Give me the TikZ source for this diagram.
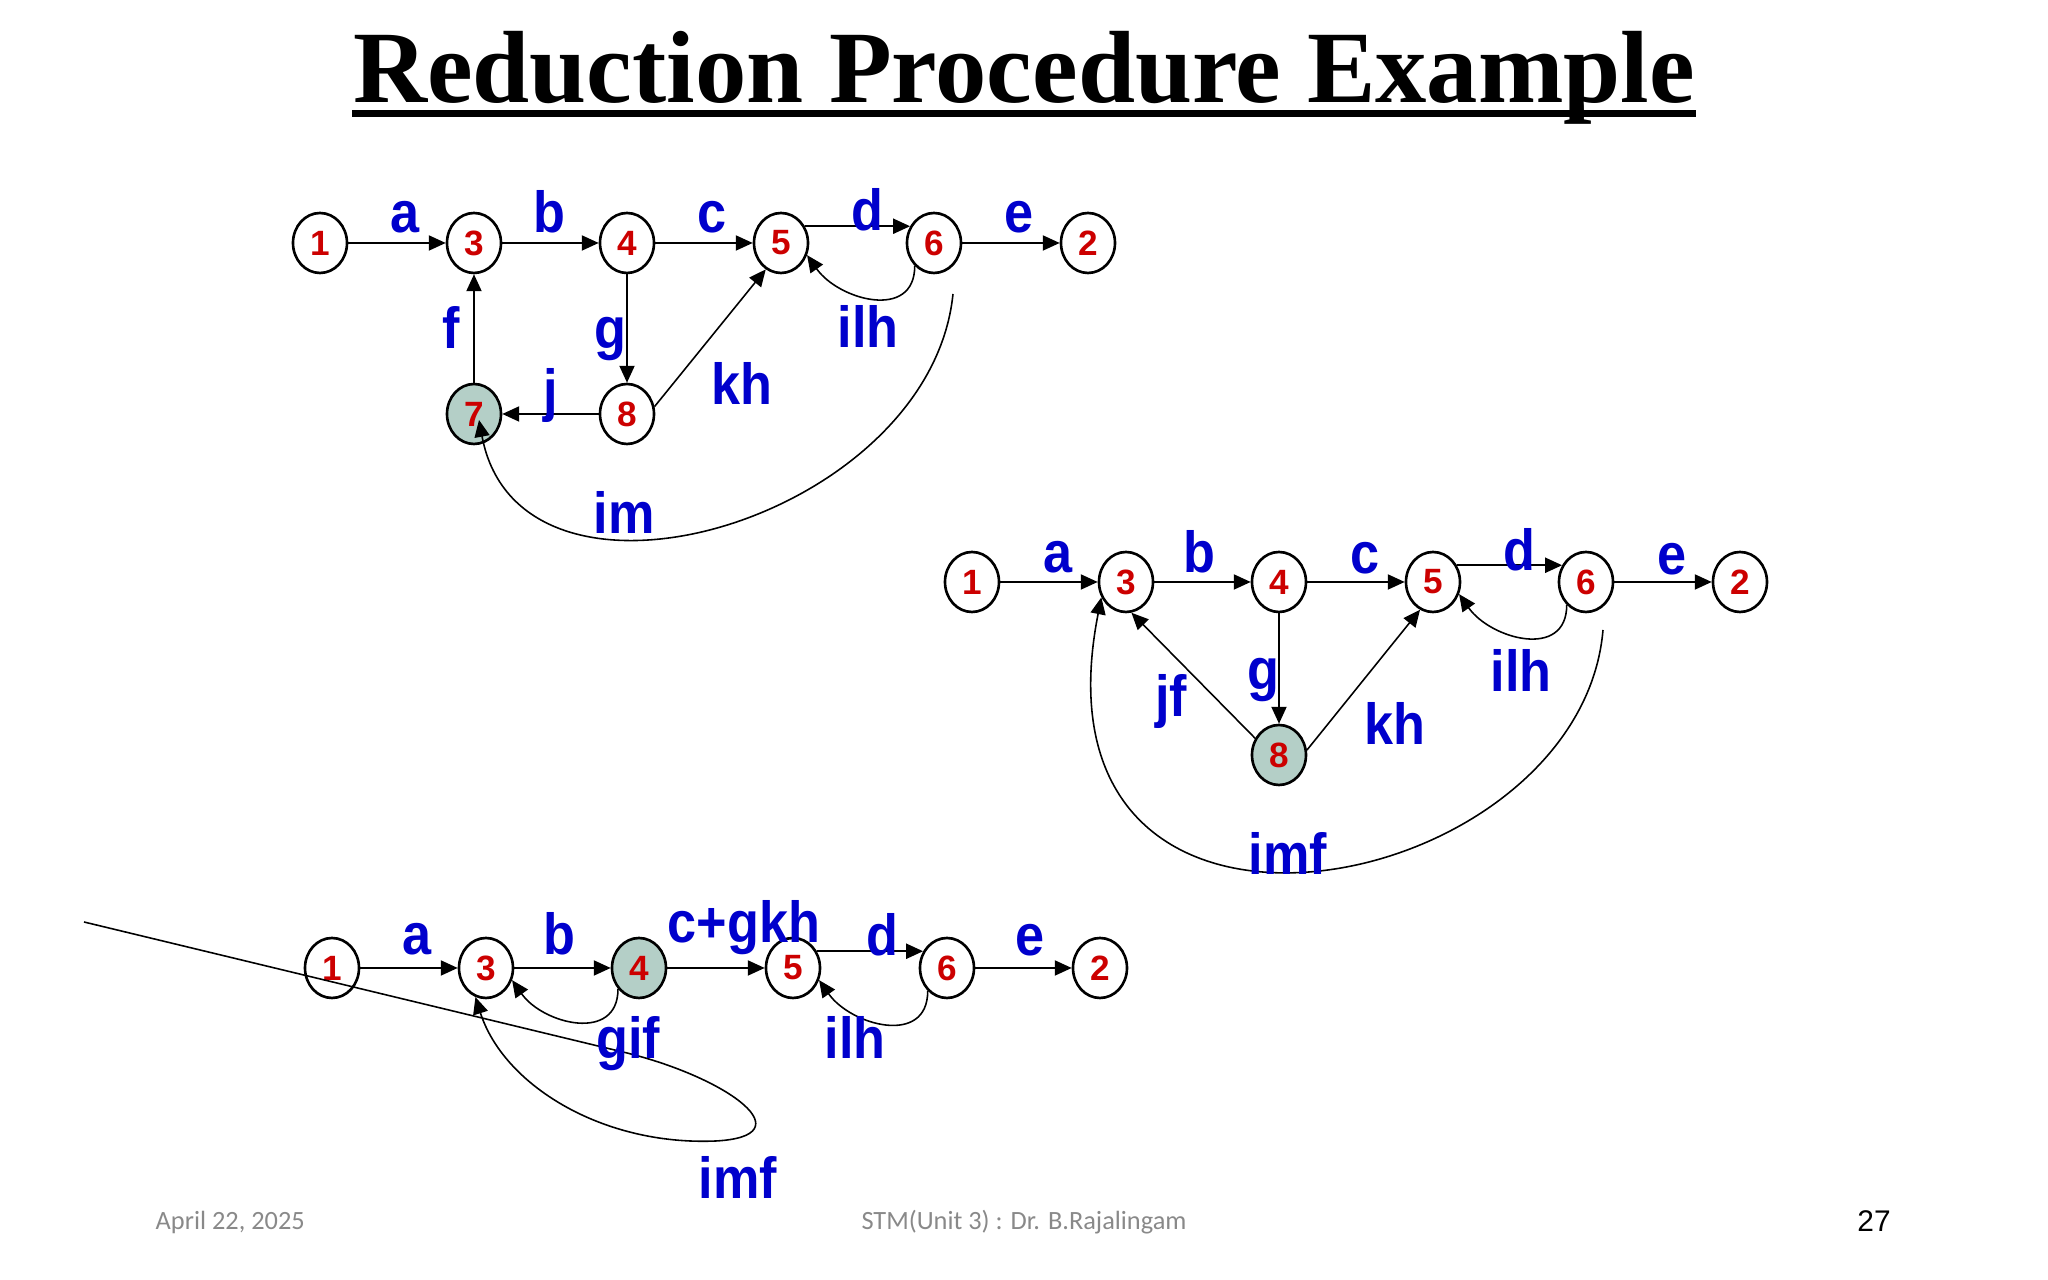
\documentclass[tikz,border=0pt]{standalone}
\usepackage{fontspec}
\setmainfont{Liberation Serif}
\newfontfamily\lblfont[FakeStretch=0.9]{Liberation Sans}
\newfontfamily\numfont{Liberation Sans}
\newfontfamily\footfont{Carlito}
\usetikzlibrary{arrows.meta,shapes.geometric}

\definecolor{numred}{RGB}{204,0,0}
\definecolor{lblblue}{RGB}{0,0,204}
\definecolor{cutfill}{RGB}{180,207,199}
\definecolor{footgray}{RGB}{137,137,137}

\begin{document}
\begin{tikzpicture}[
vertex/.style={ellipse, draw, line width=0.75pt, fill=white, minimum width=0.54cm, minimum height=0.60cm, inner sep=0pt, text=numred, font=\numfont\bfseries\fontsize{10}{11}\selectfont},
cutvertex/.style={vertex, fill=cutfill},
lbl/.style={anchor=base, inner sep=0pt, text=lblblue, font=\lblfont\bfseries\fontsize{16.5}{18}\selectfont},
arc/.style={-{Triangle[length=4.8pt,width=4.3pt]}, line width=0.45pt},
foot/.style={anchor=base, inner sep=0pt, text=footgray, font=\footfont\fontsize{7.5}{9}\selectfont}
]
\useasboundingbox (0,0) rectangle (20.48,-12.8);

% title
\node[inner sep=0pt, anchor=base, font=\bfseries\fontsize{29.2}{33}\selectfont] (title) at (10.24,-1.03) {Reduction Procedure Example};
\draw[line width=2pt] ([yshift=-0.11cm]title.base west) -- ([yshift=-0.11cm]title.base east);

% first graph
\node[vertex] (a1) at (3.20,-2.43) {1};
\node[vertex] (a3) at (4.74,-2.43) {3};
\node[vertex] (a4) at (6.27,-2.43) {4};
\node[vertex] (a5) at (7.81,-2.43) {5};
\node[vertex] (a6) at (9.34,-2.43) {6};
\node[vertex] (a2) at (10.88,-2.43) {2};
\node[cutvertex] (a7) at (4.74,-4.14) {7};
\node[vertex] (a8) at (6.27,-4.14) {8};

\draw[arc] (a1.east) -- (a3.west);
\draw[arc] (a3.east) -- (a4.west);
\draw[arc] (a4.east) -- (a5.west);
\draw[arc] (a5.35) -- (a6.145);
\draw[arc] (a6.east) -- (a2.west);
\draw[arc] (a6.230) to[out=-90,in=-55,looseness=1.3] (a5.-25);
\draw[arc] (a4.south) -- (a8.north);
\draw[arc] (a8.west) -- (a7.east);
\draw[arc] (a8.15) -- (a5.-120);
\draw[arc] (a7.north) -- (a3.south);
\coordinate (imstart) at (9.53,-2.94);
\draw[arc] (imstart) .. controls (9.30,-5.20) and (5.20,-6.40) .. ([shift={(0.05,-0.06)}]a7.center);

\node[lbl] (la1) at (4.05,-2.33) {a};
\node[lbl] (lb1) at (5.49,-2.33) {b};
\node[lbl] (lc1) at (7.12,-2.33) {c};
\node[lbl] (ld1) at (8.67,-2.31) {d};
\node[lbl] (le1) at (10.19,-2.33) {e};
\node[lbl] (lf1) at (4.51,-3.49) {f};
\node[lbl] (lg1) at (6.10,-3.49) {g};
\node[lbl] (lilh1) at (8.68,-3.48) {ilh};
\node[lbl] (lj1) at (5.51,-4.11) {j};
\node[lbl] (lkh1) at (7.42,-4.05) {kh};
\node[lbl] (lim1) at (6.24,-5.34) {im};

% second graph
\node[vertex] (b1) at (9.72,-5.82) {1};
\node[vertex] (b3) at (11.26,-5.82) {3};
\node[vertex] (b4) at (12.79,-5.82) {4};
\node[vertex] (b5) at (14.33,-5.82) {5};
\node[vertex] (b6) at (15.86,-5.82) {6};
\node[vertex] (b2) at (17.40,-5.82) {2};
\node[cutvertex] (b8) at (12.79,-7.55) {8};

\draw[arc] (b1.east) -- (b3.west);
\draw[arc] (b3.east) -- (b4.west);
\draw[arc] (b4.east) -- (b5.west);
\draw[arc] (b5.35) -- (b6.145);
\draw[arc] (b6.east) -- (b2.west);
\draw[arc] (b6.230) to[out=-90,in=-55,looseness=1.3] (b5.-25);
\draw[arc] (b4.south) -- (b8.north);
\draw[arc] (b8.145) -- (b3.-80);
\draw[arc] (b8.10) -- (b5.-115);
\coordinate (imfstart) at (16.03,-6.30);
\draw[arc] (imfstart) .. controls (15.80,-9.00) and (10.20,-10.10) .. (b3.212);

\node[lbl] (la2) at (10.58,-5.73) {a};
\node[lbl] (lb2) at (11.99,-5.73) {b};
\node[lbl] (lc2) at (13.65,-5.74) {c};
\node[lbl] (ld2) at (15.19,-5.71) {d};
\node[lbl] (le2) at (16.72,-5.75) {e};
\node[lbl] (lilh2) at (15.21,-6.92) {ilh};
\node[lbl] (lg2) at (12.63,-6.90) {g};
\node[lbl] (ljf2) at (11.71,-7.17) {jf};
\node[lbl] (lkh2) at (13.95,-7.45) {kh};
\node[lbl] (limf2) at (12.88,-8.75) {imf};

% third graph
\node[vertex] (c1) at (3.32,-9.68) {1};
\node[vertex] (c3) at (4.86,-9.68) {3};
\node[cutvertex] (c4) at (6.39,-9.68) {4};
\node[vertex] (c5) at (7.93,-9.68) {5};
\node[vertex] (c6) at (9.47,-9.68) {6};
\node[vertex] (c2) at (11.00,-9.68) {2};

\draw[arc] (c1.east) -- (c3.west);
\draw[arc] (c3.east) -- (c4.west);
\draw[arc] (c4.east) -- (c5.west);
\draw[arc] (c5.35) -- (c6.145);
\draw[arc] (c6.east) -- (c2.west);
\draw[arc] (c6.230) to[out=-90,in=-55,looseness=1.3] (c5.-25);
\draw[arc] (c4.225) to[out=-90,in=-55,looseness=1.3] (c3.-25);
\coordinate (imfbend) at (0.84,-9.22);
\draw[arc] (imfbend) -- (6.27,-10.53) .. controls (7.31,-10.79) and (8.05,-11.36) .. (7.16,-11.41)
  .. controls (6.01,-11.46) and (5.03,-10.84) .. (c3.250);

\node[lbl] (la3) at (4.17,-9.55) {a};
\node[lbl] (lb3) at (5.59,-9.55) {b};
\node[lbl] (lcgkh3) at (7.44,-9.43) {c+gkh};
\node[lbl] (ld3) at (8.82,-9.56) {d};
\node[lbl] (le3) at (10.30,-9.56) {e};
\node[lbl] (lgif3) at (6.28,-10.59) {gif};
\node[lbl] (lilh3) at (8.55,-10.59) {ilh};
\node[lbl] (limf3) at (7.38,-11.99) {imf};

% footer
\node[foot, anchor=base west] (date) at (1.55,-12.30) {April 22, 2025};
\node[foot] (course) at (10.24,-12.30) {STM(Unit 3) : Dr. B.Rajalingam};
\node[anchor=base, inner sep=0pt, font=\numfont\fontsize{8.5}{10}\selectfont] (page) at (18.74,-12.32) {27};
\end{tikzpicture}
\end{document}
